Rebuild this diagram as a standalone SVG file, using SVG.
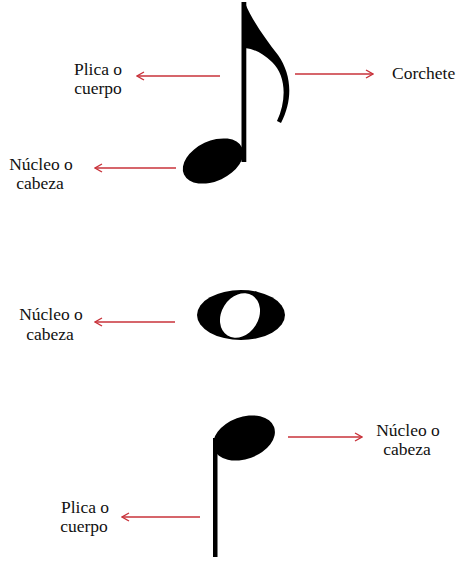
<svg xmlns="http://www.w3.org/2000/svg" width="474" height="587" viewBox="0 0 474 587">
  <style>
    .lbl { font-family: "Liberation Serif", "Times New Roman", serif; font-size: 17.5px; fill: #111; }
    .arrow { stroke: #c8323a; stroke-width: 1.4; fill: none; marker-end: url(#chev); }
    .ink { fill: #000; }
  </style>
  <defs>
    <marker id="chev" viewBox="0 0 10 10" refX="9" refY="5" markerWidth="10" markerHeight="10" markerUnits="userSpaceOnUse" orient="auto">
      <path d="M 2 1 L 9 5 L 2 9" fill="none" stroke="#c8323a" stroke-width="1.4"/>
    </marker>
  </defs>
  <rect width="474" height="587" fill="#fff"/>

  <g id="eighth-note">
    <rect class="ink" x="241.5" y="2" width="4.8" height="160"/>
    <path class="ink" d="M 245 3 C 252 20, 265 38, 278 55 C 292 75, 293 100, 281 123 L 277 121 C 287 100, 286 75, 272 62 C 263 54, 255 49, 245 48 Z"/>
    <ellipse class="ink" cx="213" cy="161" rx="32" ry="20" transform="rotate(-25 213 161)"/>
  </g>

  <g id="whole-note">
    <ellipse class="ink" cx="241" cy="315" rx="44" ry="25"/>
    <ellipse fill="#fff" cx="240" cy="315.5" rx="18.5" ry="23.5" transform="rotate(32 240 315.5)"/>
  </g>

  <g id="quarter-note">
    <rect class="ink" x="213" y="438" width="4.5" height="119"/>
    <ellipse class="ink" cx="244" cy="438" rx="32" ry="21" transform="rotate(-20 244 438)"/>
  </g>

  <g id="connectors">
    <line class="arrow" x1="220" y1="76" x2="137" y2="76"/>
    <line class="arrow" x1="295" y1="74" x2="373" y2="74"/>
    <line class="arrow" x1="176" y1="168" x2="95" y2="168"/>
    <line class="arrow" x1="175" y1="322" x2="95" y2="322"/>
    <line class="arrow" x1="288" y1="437" x2="362" y2="437"/>
    <line class="arrow" x1="200" y1="517" x2="122" y2="517"/>
  </g>

  <g id="label-plica-top">
    <text class="lbl" x="98" y="75" text-anchor="middle">Plica o</text>
    <text class="lbl" x="98" y="94" text-anchor="middle">cuerpo</text>
  </g>
  <g id="label-corchete">
    <text class="lbl" x="392" y="79">Corchete</text>
  </g>
  <g id="label-nucleo-top">
    <text class="lbl" x="41" y="170" text-anchor="middle">Núcleo o</text>
    <text class="lbl" x="40" y="189" text-anchor="middle">cabeza</text>
  </g>
  <g id="label-nucleo-middle">
    <text class="lbl" x="51" y="320" text-anchor="middle">Núcleo o</text>
    <text class="lbl" x="50" y="340" text-anchor="middle">cabeza</text>
  </g>
  <g id="label-nucleo-bottom">
    <text class="lbl" x="408" y="436" text-anchor="middle">Núcleo o</text>
    <text class="lbl" x="407" y="455" text-anchor="middle">cabeza</text>
  </g>
  <g id="label-plica-bottom">
    <text class="lbl" x="85" y="513" text-anchor="middle">Plica o</text>
    <text class="lbl" x="84" y="532" text-anchor="middle">cuerpo</text>
  </g>
</svg>
